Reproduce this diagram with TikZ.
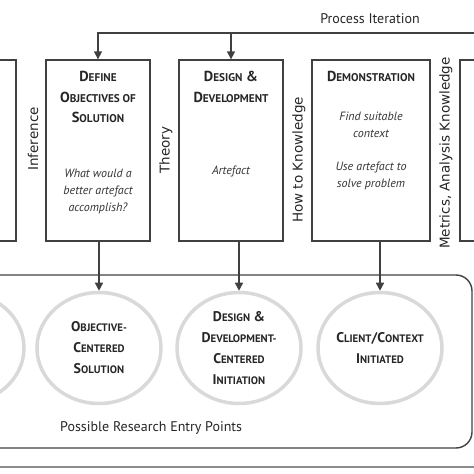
\documentclass[tikz,border=0pt]{standalone}
\usepackage{fontspec}
\setmainfont{PT Sans}
\newfontfamily\labelfont{DejaVu Sans}
\usetikzlibrary{arrows.meta,positioning,shapes.geometric}
\newcommand{\sct}[2]{{\fontsize{14.5}{16}\selectfont #1}{\fontsize{11.2}{16}\selectfont #2}}
\newcommand{\scc}[2]{{\fontsize{14}{16}\selectfont #1}{\fontsize{10.8}{16}\selectfont #2}}

\begin{document}
\begin{tikzpicture}[x=1pt,y=1pt,node distance=20pt]
\useasboundingbox (0,0) rectangle (474,474);
\clip (0,0) rectangle (474,474);

% Define the node styles
\tikzstyle{phase}=[rectangle, draw=black!75, line width=1.3pt, minimum height=181pt, inner sep=0pt]
\tikzstyle{title}=[inner sep=0pt, align=center, font=\bfseries\fontsize{14.5}{20.5}\selectfont, text=black!85]
\tikzstyle{body}=[inner sep=0pt, align=center, font=\itshape\fontsize{12}{17}\selectfont, text=black!80]
\tikzstyle{entry}=[ellipse, draw=black!15, line width=3.5pt, minimum width=124pt, minimum height=111pt, inner sep=0pt, align=center, font=\bfseries\fontsize{14}{21}\selectfont, text=black!85]
\tikzstyle{vlabel}=[rotate=90, inner sep=0pt, font=\labelfont\fontsize{13.5}{15}\selectfont, text=black!85]
\tikzstyle{flow}=[-{Triangle[length=8pt,width=8pt]}, line width=1.4pt, draw=black!75]

% Define the activity boxes
\node[phase, minimum width=100pt] (prob) at (-34,323.5) {};
\node[phase, minimum width=104pt] (dobj) at (98,323.5) {};
\node[phase, minimum width=104pt] (ddev) at (231,323.5) {};
\node[phase, minimum width=118pt] (demo) at (371,323.5) {};
\node[phase, minimum width=100pt] (eval) at (510,323.5) {};

\node[title, below=12pt of dobj.north] (dobjT) {\sct{D}{EFINE}\\\sct{O}{BJECTIVES OF}\\\sct{S}{OLUTION}};
\node[body, below=110pt of dobj.north] (dobjB) {What would a\\better artefact\\accomplish?};
\node[title, below=12pt of ddev.north] (ddevT) {\sct{D}{ESIGN} \&\\\sct{D}{EVELOPMENT}};
\node[body, below=106pt of ddev.north] (ddevB) {Artefact};
\node[title, below=12pt of demo.north] (demoT) {\sct{D}{EMONSTRATION}};
\node[body, below=52pt of demo.north] (demoB) {Find suitable\\context};
\node[body, below=102pt of demo.north] (demoC) {Use artefact to\\solve problem};

% Knowledge labels between the boxes
\node[vlabel] (infer) at (33,335) {Inference};
\node[vlabel] (theory) at (166,324) {Theory};
\node[vlabel] (howto) at (299,314) {How to Knowledge};
\node[vlabel] (metric) at (446,321) {Metrics, Analysis Knowledge};

% Research entry points
\node[draw=black!75, line width=1.4pt, rounded corners=16pt, minimum width=502pt, minimum height=173pt, inner sep=0pt] (entries) at (221,112.5) {};
\node[entry] (eprob) at (-38,126) {};
\node[entry] (eobj) at (99,126) {\scc{O}{BJECTIVE-}\\\scc{C}{ENTERED}\\\scc{S}{OLUTION}};
\node[entry] (edev) at (239,126) {\scc{D}{ESIGN} \&\\\scc{D}{EVELOPMENT-}\\\scc{C}{ENTERED}\\\scc{I}{NITIATION}};
\node[entry] (ectx) at (380,126) {\scc{C}{LIENT}/\scc{C}{ONTEXT}\\\scc{I}{NITIATED}};
\node[anchor=west, inner sep=0pt, font=\fontsize{14}{16}\selectfont, text=black!85] (entrylabel) at (60,46) {Possible Research Entry Points};

% Process iteration
\node[inner sep=0pt, font=\fontsize{14}{16}\selectfont, text=black!85] (iterlabel) at (370,455) {Process Iteration};
\coordinate (iterR) at (480,441);
\coordinate (base) at (0,7);
\coordinate (baseR) at (474,7);

% Add the edges
\draw[flow] (iterR) -| (dobj.north);
\draw[flow] (iterR -| ddev.north) -- (ddev.north);
\draw[flow] (eobj.north |- dobj.south) -- (eobj.north);
\draw[flow] (edev.north |- ddev.south) -- (edev.north);
\draw[flow] (ectx.north |- demo.south) -- (ectx.north);
\draw[black!45, line width=2.5pt] (base) -- (baseR);

\end{tikzpicture}
\end{document}
